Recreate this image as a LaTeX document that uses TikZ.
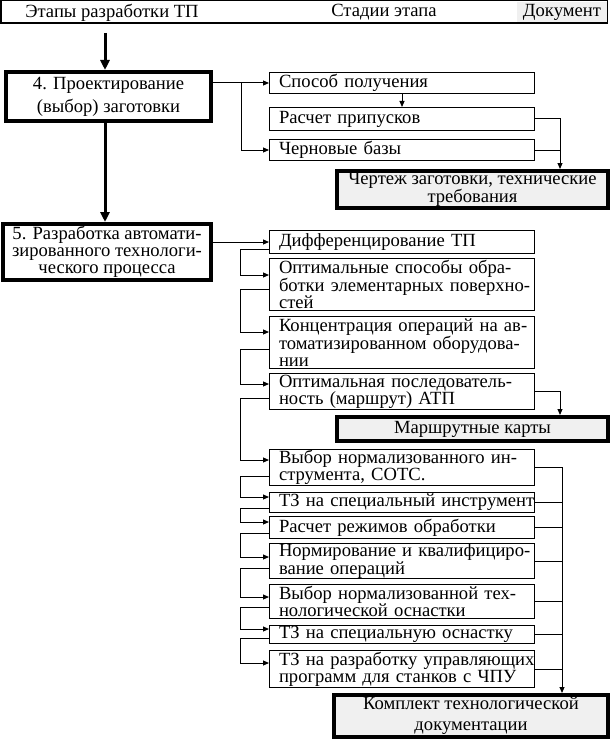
\documentclass[tikz,border=0pt]{standalone}
\usepackage{fontspec}
\setmainfont{Liberation Serif}
\usetikzlibrary{arrows.meta,calc}
\definecolor{docgray}{HTML}{F0F0F0}
\begin{document}
\begin{tikzpicture}[x=1pt,y=-1pt,
  every node/.style={font=\fontsize{18.6}{17.2}\selectfont},
  stagebox/.style={draw, line width=1pt, anchor=north west, minimum width=265,
    text width=246, inner xsep=9.5, inner ysep=0, align=left},
  thickbox/.style={draw, line width=4pt, anchor=north west, inner xsep=2pt, inner ysep=1pt, align=center},
  docbox/.style={thickbox, fill=docgray},
  arr/.style={-{Triangle[length=6pt,width=5pt]}, line width=1pt},
  thinline/.style={line width=1pt},
  bigarr/.style={-{Triangle[length=10pt,width=9pt]}, line width=3pt}]
\useasboundingbox (0,0) rectangle (611,741);

% header
\node[fill=docgray, anchor=north west, minimum width=89.5, minimum height=21, inner sep=0] (h3) at (517,1.5) {Документ};
\node[draw, line width=1.5pt, anchor=north west, minimum width=606.5, minimum height=22.5, inner sep=0] (hdr) at (0,0) {};
\node (h1) at (112,12.5) {Этапы разработки ТП};
\node (h2) at (384,12.5) {Стадии этапа};

% stage 4
\node[thickbox, minimum width=205, minimum height=49, font=\fontsize{18.6}{23}\selectfont] (b4) at (4,70) {4. Проектирование\\(выбор) заготовки};
\node[stagebox, minimum height=21] (s1) at (269,72) {\mbox{Способ получения}};
\node[stagebox, minimum height=23] (s2) at (269,107) {\mbox{Расчет припусков}};
\node[stagebox, minimum height=21] (s3) at (269,139) {\mbox{Черновые базы}};
\node[docbox, minimum width=271, minimum height=37] (d1) at (335,169) {Чертеж заготовки, технические\\требования};

% stage 5
\node[thickbox, minimum width=208, minimum height=56] (b5) at (1,222) {5. Разработка автомати-\\зированного технологи-\\ческого процесса};
\node[stagebox, minimum height=23] (c1) at (269,230) {\mbox{Дифференцирование ТП}};
\node[stagebox, minimum height=52] (c2) at (269,258) {\mbox{Оптимальные способы обра-}\\\mbox{ботки элементарных поверхно-}\\\mbox{стей}};
\node[stagebox, minimum height=52] (c3) at (269,316) {\mbox{Концентрация операций на ав-}\\\mbox{томатизированном оборудова-}\\\mbox{нии}};
\node[stagebox, minimum height=36] (c4) at (269,373) {\mbox{Оптимальная последователь-}\\\mbox{ность (маршрут) АТП}};
\node[docbox, minimum width=271, minimum height=24] (d2) at (335,415) {Маршрутные карты};
\node[stagebox, minimum height=36] (c5) at (269,449) {\mbox{Выбор нормализованного ин-}\\\mbox{струмента, СОТС.}};
\node[stagebox, minimum height=20] (c6) at (269,492) {\mbox{ТЗ на специальный инструмент}};
\node[stagebox, minimum height=22] (c7) at (269,516) {\mbox{Расчет режимов обработки}};
\node[stagebox, minimum height=35] (c8) at (269,543) {\mbox{Нормирование и квалифициро-}\\\mbox{вание операций}};
\node[stagebox, minimum height=34] (c9) at (269,584) {\mbox{Выбор нормализованной тех-}\\\mbox{нологической оснастки}};
\node[stagebox, minimum height=18] (c10) at (269,625) {\mbox{ТЗ на специальную оснастку}};
\node[stagebox, minimum height=37] (c11) at (269,650) {\mbox{ТЗ на разработку управляющих}\\\mbox{программ для станков с ЧПУ}};
\node[docbox, minimum width=274, minimum height=42, inner ysep=0, font=\fontsize{18.6}{21}\selectfont] (d3) at (332,693) {Комплект технологической\\документации};

% main vertical arrows
\coordinate (top) at (105,33);
\draw[bigarr] (top) -- (top |- b4.north);
\draw[bigarr] ([xshift=-3.5pt]b4.south) -- ([xshift=-3.5pt]b4.south |- b5.north);

% stage 4 connectors
\draw[arr] (b4.east |- s1.west) -- (s1.west);
\coordinate (br1) at ($(b4.east |- s1.west)!0.5!(s1.west)$);
\draw[arr] (br1) |- (s3.west);
\draw[arr] (s1.south) -- (s2.north);
\coordinate (bus1) at ([xshift=-50pt]d1.north east);
\draw[arr] (s2.east) -| (bus1);
\draw[thinline] (s3.east) -- (s3.east -| bus1);

% stage 5 connectors
\draw[arr] (b5.east |- c1.west) -- (c1.west);
\draw[arr] ([yshift=5pt]c1.south west) -- ++(-29,0) |- ([yshift=-17pt]c2.north west);
\draw[arr] ([yshift=22pt]c2.south west) -- ++(-29,0) |- ([yshift=-16pt]c3.north west);
\draw[arr] ([yshift=20pt]c3.south west) -- ++(-29,0) |- ([yshift=-11pt]c4.north west);
\draw[arr] ([yshift=12pt]c4.south west) -- ++(-29,0) |- ([yshift=-11pt]c5.north west);
\draw[arr] ([yshift=10pt]c5.south west) -- ++(-29,0) |- ([yshift=-5pt]c6.north west);
\draw[arr] ([yshift=5pt]c6.south west) -- ++(-29,0) |- ([yshift=-6pt]c7.north west);
\draw[arr] ([yshift=6pt]c7.south west) -- ++(-29,0) |- ([yshift=-14pt]c8.north west);
\draw[arr] ([yshift=11pt]c8.south west) -- ++(-29,0) |- ([yshift=-13pt]c9.north west);
\draw[arr] ([yshift=12pt]c9.south west) -- ++(-29,0) |- ([yshift=-4pt]c10.north west);
\draw[arr] ([yshift=6pt]c10.south west) -- ++(-29,0) |- ([yshift=-13pt]c11.north west);

\coordinate (bus2) at ([xshift=-50pt]d2.north east);
\draw[arr] (c4.east) -| (bus2);
\coordinate (bus3) at ([xshift=-48pt]d3.north east);
\draw[arr] (c5.east) -| (bus3);
\foreach \n in {c6,c7,c8,c9,c10,c11} \draw[thinline] (\n.east) -- (\n.east -| bus3);
\end{tikzpicture}
\end{document}
